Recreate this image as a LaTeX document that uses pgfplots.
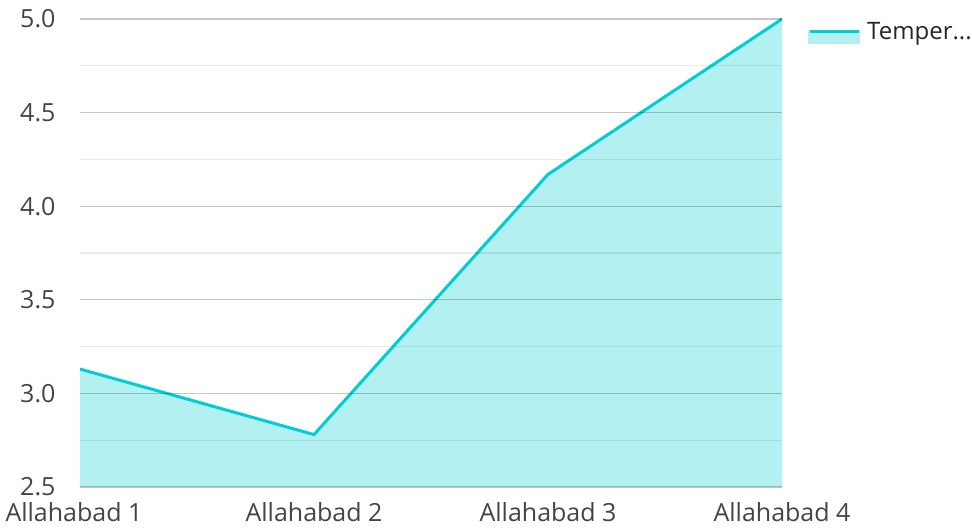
\documentclass[border=0pt]{standalone}
\usepackage{fontspec}
\setmainfont{Open Sans}
\usepackage{pgfplots}
\pgfplotsset{compat=1.18}
\definecolor{teal1}{RGB}{0,206,209}
\definecolor{tealfill}{RGB}{179,240,241}
\definecolor{lab}{RGB}{68,68,68}
\begin{document}
\begin{tikzpicture}[x=1pt,y=1pt]
\path[use as bounding box] (0,0) rectangle (972,528);
\begin{axis}[
  at={(80pt,41pt)}, anchor=south west,
  scale only axis, width=702pt, height=468pt,
  xmin=0, xmax=3, ymin=2.5, ymax=5.0,
  xtick={0,1,2,3},
  xticklabels={Allahabad 1\hspace*{12pt},Allahabad 2,Allahabad 3,Allahabad 4},
  ytick={2.5,3.0,...,5.0},
  minor y tick num=1,
  /pgf/number format/fixed,
  /pgf/number format/fixed zerofill,
  /pgf/number format/precision=1,
  /pgf/number format/assume math mode=true,
  ymajorgrids, yminorgrids,
  major grid style={draw=black, line width=1.2pt, opacity=0.22},
  minor grid style={draw=black, line width=1.2pt, opacity=0.08},
  axis line style={draw=none},
  major tick length=0pt, minor tick length=0pt,
  tick label style={font=\fontsize{25}{29}\selectfont, text=lab},
  xticklabel style={inner sep=0pt, yshift=-15pt},
  yticklabel style={xshift=-21pt},
  axis on top,
  legend style={at={(rel axis cs:1.037,0.972)}, anchor=west, draw=none, fill=none,
    inner sep=0pt, font=\fontsize{24}{28}\selectfont, text=black!85,
    nodes={inner sep=2pt}},
  legend cell align=left,
  legend image code/.code={
    \fill[tealfill] (0pt,-11pt) rectangle (49pt,0pt);
    \draw[teal1, line width=3pt] (0pt,0pt) -- (49pt,0pt);
    \path (54pt,0pt);
  },
]
\addplot[fill=tealfill, draw=none, forget plot] coordinates {(0,3.13) (1,2.78) (2,4.17) (3,5.0)} \closedcycle;
\addplot[teal1, line width=3pt] coordinates {(0,3.13) (1,2.78) (2,4.17) (3,5.0)};
\addlegendentry{Temper...}
\end{axis}
\end{tikzpicture}
\end{document}
